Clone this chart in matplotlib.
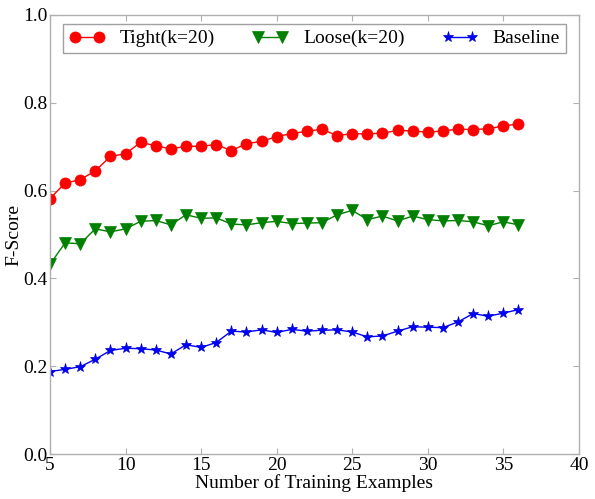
import matplotlib
matplotlib.use("Agg")
import matplotlib.pyplot as plt

x = list(range(5, 37))
tight = [0.582, 0.617, 0.625, 0.645, 0.678, 0.684, 0.710, 0.702, 0.695, 0.701,
         0.701, 0.705, 0.691, 0.707, 0.712, 0.723, 0.730, 0.735, 0.740, 0.725,
         0.730, 0.729, 0.731, 0.737, 0.736, 0.733, 0.736, 0.740, 0.739, 0.741,
         0.747, 0.752]
loose = [0.432, 0.481, 0.479, 0.513, 0.506, 0.513, 0.530, 0.532, 0.522, 0.545,
         0.537, 0.538, 0.524, 0.522, 0.527, 0.530, 0.525, 0.526, 0.527, 0.545,
         0.555, 0.534, 0.542, 0.531, 0.542, 0.534, 0.531, 0.532, 0.529, 0.520,
         0.529, 0.522]
baseline = [0.188, 0.193, 0.199, 0.216, 0.236, 0.241, 0.240, 0.237, 0.228, 0.249,
            0.243, 0.254, 0.280, 0.278, 0.283, 0.277, 0.284, 0.280, 0.282, 0.283,
            0.278, 0.267, 0.269, 0.280, 0.290, 0.289, 0.288, 0.301, 0.320, 0.314,
            0.321, 0.329]
labels = ["Tight(k=20)", "Loose(k=20)", "Baseline"]
xticks = [5, 10, 15, 20, 25, 30, 35, 40]
yticks = [0.0, 0.2, 0.4, 0.6, 0.8, 1.0]

plt.rcParams['font.family'] = ['Liberation Serif', 'DejaVu Serif']
plt.rcParams['mathtext.fontset'] = 'stix'

fig = plt.figure(figsize=(5.95, 4.99), dpi=100)
ax = fig.add_axes([0.084, 0.090, 0.889, 0.880])

ax.plot(x, tight, color=(1, 0, 0), marker='o', markersize=8, linewidth=1,
        markeredgewidth=0.5, markeredgecolor=(1, 0, 0), label=labels[0])
ax.plot(x, loose, color=(0, 0.5, 0), marker='v', markersize=8, linewidth=1,
        markeredgewidth=0.5, markeredgecolor=(0, 0.5, 0), label=labels[1])
ax.plot(x, baseline, color=(0, 0, 1), marker='*', markersize=8, linewidth=1,
        markeredgewidth=0.5, markeredgecolor=(0, 0, 0.8), label=labels[2])

ax.set_xlim(5, 40)
ax.set_ylim(0.0, 1.0)
ax.set_xticks(xticks)
ax.set_yticks(yticks)
ax.set_xticklabels([str(t) for t in xticks])
ax.set_yticklabels([f"{t:.1f}" for t in yticks])

for s in ax.spines.values():
    s.set_color('#b0b0b0')
    s.set_linewidth(1.0)
ax.tick_params(direction='in', length=4, width=0.8, color='#b0b0b0',
               labelsize=14, labelcolor='black', top=True, right=True, pad=2)

ax.set_xlabel("Number of Training Examples", fontsize=14, labelpad=0)
ax.set_ylabel("F-Score", fontsize=14, labelpad=0)

leg = ax.legend(loc='upper center', ncol=3, numpoints=2, fontsize=14,
                frameon=True, fancybox=False, framealpha=1,
                edgecolor='#a0a0a0', borderaxespad=0.46, columnspacing=1.9,
                handlelength=1.85, handletextpad=0.78, borderpad=0.3,
                bbox_to_anchor=(0.5, 1.0))
leg.get_frame().set_linewidth(1.0)

fig.savefig("out.png", dpi=100)
